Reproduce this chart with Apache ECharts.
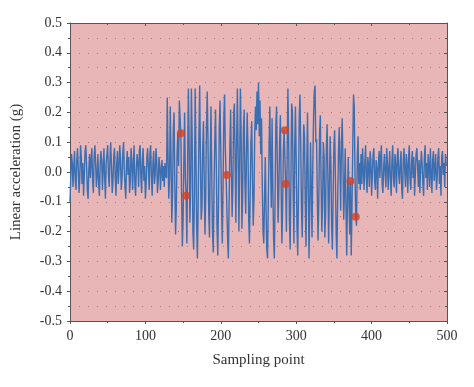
<!DOCTYPE html>
<html><head><meta charset="utf-8">
<script src="https://cdn.jsdelivr.net/npm/echarts@6/dist/echarts.min.js"></script>
<style>html,body{margin:0;padding:0;background:#fff}#c{width:474px;height:387px}</style>
</head><body><div id="c"></div>
<script>
// Acceleration samples, index = sampling point 0..499
const segQuiet1 = [
-0.10,-0.02,0.06,0.03,-0.05,0.02,0.07,-0.03,-0.06,0.04,
0.08,0.01,-0.07,-0.02,0.09,0.05,-0.04,0.03,-0.08,-0.01,
0.07,0.09,0.02,-0.06,-0.09,0.01,0.06,-0.02,0.04,0.08,
-0.03,-0.07,0.05,0.09,0.03,-0.05,-0.01,0.06,-0.04,-0.08,
0.02,0.07,0.04,-0.06,0.01,0.08,-0.02,-0.09,0.03,0.06,
0.09,-0.01,-0.05,0.04,0.10,0.02,-0.07,-0.03,0.05,0.08,
-0.02,-0.08,0.03,0.07,-0.04,0.01,0.09,0.04,-0.06,-0.02,
0.06,0.10,0.01,-0.05,-0.09,0.03,0.07,-0.01,0.05,-0.07,
-0.03,0.08,0.04,-0.06,0.02,0.09,-0.04,-0.08,0.01,0.06,
0.03,-0.05,0.07,0.09,-0.02,-0.07,0.04,0.08,-0.03,0.02,
-0.09,-0.04,0.05,0.08,0.01,-0.06,0.06,0.09,-0.02,-0.08,
0.03,0.07,-0.04,-0.01,0.08,0.04,-0.07,-0.03,0.05,0.02,
-0.06,0.01,0.04,-0.03,0.02,-0.05,0.03,-0.01,-0.02,0.25
];
const segActive = [
0.06,-0.09,-0.02,0.22,0.05,-0.17,-0.08,0.14,0.20,-0.04,
-0.21,-0.12,0.06,0.13,0.02,0.24,0.18,0.13,-0.08,-0.25,
-0.16,0.04,0.20,-0.02,-0.08,-0.24,0.03,0.28,0.10,-0.17,
-0.05,0.28,0.12,-0.20,-0.26,-0.08,0.28,0.06,-0.18,-0.29,
-0.10,0.12,0.29,0.04,-0.16,-0.12,0.08,0.17,-0.02,-0.21,
-0.08,0.15,0.27,0.11,-0.14,-0.22,0.05,0.22,-0.01,-0.20,
-0.27,-0.06,0.10,0.21,0.03,-0.19,-0.28,-0.09,0.15,0.24,
0.07,-0.12,-0.24,-0.04,0.18,0.26,0.08,-0.01,-0.01,-0.22,
-0.29,-0.11,0.08,0.21,0.02,-0.15,-0.05,0.19,0.23,0.04,
-0.17,0.10,0.28,0.06,-0.20,0.02,0.28,0.12,-0.19,-0.08,
0.14,0.21,-0.03,-0.14,0.05,0.20,0.09,-0.16,-0.24,-0.07,
0.10,0.17,-0.02,-0.18,-0.09,0.13,0.22,0.14,0.27,0.16,
0.30,0.12,0.24,0.06,0.18,-0.04,-0.20,-0.24,-0.09,0.05,
-0.13,-0.26,-0.29,-0.10,0.08,0.22,0.03,-0.12,0.18,-0.05,
-0.22,-0.29,-0.08,0.16,0.22,0.02,-0.17,-0.06,0.10,0.19,
-0.04,-0.24,-0.12,0.07,0.14,0.14,-0.04,-0.20,0.05,0.28,
0.11,-0.16,-0.26,-0.03,0.23,0.20,-0.06,-0.24,0.08,0.22,
0.04,-0.18,-0.28,-0.07,0.18,0.26,0.09,-0.12,-0.22,-0.02,
0.16,0.12,-0.10,-0.25,0.01,0.20,-0.04,-0.29,-0.12,0.10,
-0.06,-0.22,0.02,0.18,0.27,0.29,0.10,0.11,-0.08,-0.23,
-0.10,0.13,0.19,-0.03,-0.20,-0.11,0.10,0.05,-0.22,-0.14,
0.08,0.16,-0.01,-0.24,-0.06,0.12,0.03,-0.18,-0.26,-0.08,
0.09,0.14,-0.02,-0.21,-0.29,-0.10,0.06,0.15,0.02,-0.13,
0.10,0.18,0.04,-0.16,-0.07,0.08,-0.12,-0.28,-0.09,0.05,
-0.10,-0.21,-0.03,-0.28,-0.12,0.08,0.26,0.22,-0.01,-0.15,
-0.18,0.05,0.12,-0.04,0.03,-0.06
];
const segQuiet2 = [
0.06,-0.04,0.08,0.01,
-0.06,0.03,0.09,-0.02,-0.07,0.05,0.02,-0.05,0.07,0.04,
-0.08,-0.01,0.06,0.08,-0.03,-0.06,0.04,0.01,-0.09,0.03,
0.07,-0.02,0.05,0.09,-0.04,-0.07,0.02,0.06,-0.01,-0.05,
0.08,0.03,-0.06,0.01,0.07,-0.03,-0.08,0.04,0.09,-0.02,
-0.05,0.06,0.02,-0.07,0.05,0.08,-0.01,-0.04,0.03,0.07,
-0.06,-0.09,0.04,0.08,0.00,-0.05,0.06,0.02,-0.07,0.05,
0.09,-0.03,-0.06,0.03,0.07,-0.02,0.05,-0.08,-0.01,0.06,
0.08,0.02,-0.05,0.04,-0.07,0.01,0.07,0.03,-0.04,-0.08,
0.05,0.09,-0.02,0.03,-0.06,0.06,0.02,-0.05,0.08,-0.01,
-0.07,0.04,0.07,-0.03,0.01,0.06,-0.06,-0.02,0.05,0.08,
-0.04,0.02,-0.08,0.05,0.07,-0.01,0.03,-0.05,0.06,0.02
];
// Highlighted points [sampling point, acceleration]
const markedX = [147, 154, 208, 285, 286, 372, 379];
const markedY = [0.13, -0.08, -0.01, 0.14, -0.04, -0.03, -0.15];
const xTicks = [0, 100, 200, 300, 400, 500];
const yTickLabels = ['-0.5','-0.4','-0.3','-0.2','-0.1','0.0','0.1','0.2','0.3','0.4','0.5'];

const values = segQuiet1.concat(segActive, segQuiet2);
const lineData = values.map((v, i) => [i, v]);
const dotData = markedX.map((x, i) => [x, markedY[i]]);

const font = 'Liberation Serif';
const axisColor = '#555';
const dotted = { color: '#a87878', width: 1, type: [1, 8] };

const chart = echarts.init(document.getElementById('c'));
chart.setOption({
  backgroundColor: '#fff',
  animation: false,
  grid: { left: 70, right: 27, top: 23, bottom: 66, show: true, backgroundColor: '#e8b6b6', borderWidth: 0 },
  xAxis: [{
    type: 'value', min: 0, max: 500, interval: 100,
    name: 'Sampling point', nameLocation: 'middle', nameGap: 32,
    nameTextStyle: { fontFamily: font, fontSize: 15, color: '#333' },
    axisLine: { show: true, onZero: false, lineStyle: { color: axisColor, width: 1 } },
    axisTick: { show: true, length: 3, lineStyle: { color: axisColor } },
    minorTick: { show: true, splitNumber: 2, length: 2, lineStyle: { color: axisColor } },
    axisLabel: { fontFamily: font, fontSize: 14, color: '#333', margin: 8,
      formatter: v => (xTicks.indexOf(v) >= 0 ? String(v) : '') },
    splitLine: { show: false }
  }, {
    type: 'value', min: 0, max: 500, interval: 100, position: 'top',
    axisLine: { show: true, onZero: false, lineStyle: { color: axisColor, width: 1 } },
    axisTick: { show: true, inside: true, length: 3, lineStyle: { color: axisColor } },
    minorTick: { show: true, splitNumber: 2, length: 2, lineStyle: { color: axisColor } },
    axisLabel: { show: false }, splitLine: { show: false }
  }],
  yAxis: [{
    type: 'value', min: -0.5, max: 0.5, interval: 0.1,
    name: 'Linear acceleration (g)', nameLocation: 'middle', nameGap: 46,
    nameTextStyle: { fontFamily: font, fontSize: 15, color: '#333' },
    axisLine: { show: true, onZero: false, lineStyle: { color: axisColor, width: 1 } },
    axisTick: { show: true, length: 3, lineStyle: { color: axisColor } },
    minorTick: { show: true, splitNumber: 2, length: 2, lineStyle: { color: axisColor } },
    axisLabel: { fontFamily: font, fontSize: 14, color: '#333', margin: 8,
      formatter: v => yTickLabels[Math.round(v * 10) + 5] },
    splitLine: { show: true, lineStyle: dotted },
    minorSplitLine: { show: true, lineStyle: dotted }
  }, {
    type: 'value', min: -0.5, max: 0.5, interval: 0.1, position: 'right',
    axisLine: { show: true, onZero: false, lineStyle: { color: axisColor, width: 1 } },
    axisTick: { show: true, inside: true, length: 3, lineStyle: { color: axisColor } },
    minorTick: { show: true, splitNumber: 2, length: 2, lineStyle: { color: axisColor } },
    axisLabel: { show: false }, splitLine: { show: false }
  }],
  series: [{
    type: 'line', data: lineData, showSymbol: false, symbol: 'none',
    lineStyle: { color: '#3b6fb2', width: 1.4 }, z: 2
  }, {
    type: 'scatter', data: dotData, symbolSize: 8,
    itemStyle: { color: '#d8401f' }, z: 3
  }]
});
</script></body></html>
